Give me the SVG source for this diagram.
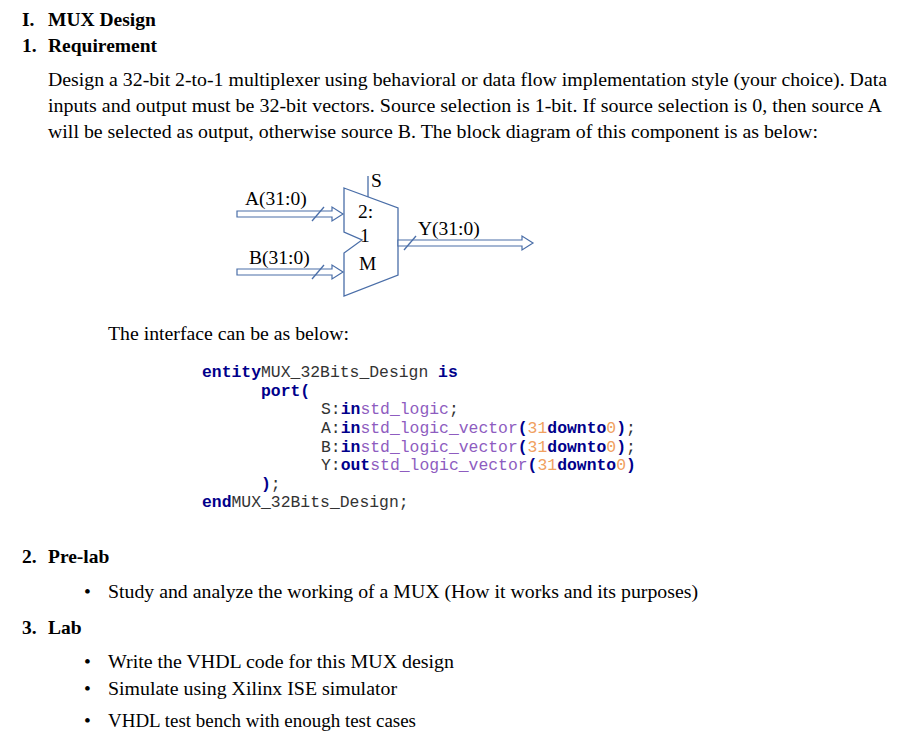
<svg xmlns="http://www.w3.org/2000/svg" width="902" height="746" viewBox="0 0 902 746">
<style>
.t{font-family:"Liberation Serif",serif;font-size:19.5px;fill:#000}
.b{font-weight:bold}
.c{font-family:"Courier New","Liberation Mono","Nimbus Mono PS",monospace;font-size:16.4px;fill:#333}
.k{fill:#00008B;font-weight:bold}
.ty{fill:#8E5CC0}
.n{fill:#F0A060}
.ln{stroke:#4A6EA8;stroke-width:1.3;fill:none}
.ar{stroke:#4A6EA8;stroke-width:1.2;fill:#fff}
</style>
<rect width="902" height="746" fill="#fff"/>
<text class="t b" x="22" y="26">I.</text>
<text class="t b" x="48" y="26">MUX Design</text>
<text class="t b" x="22" y="52">1.</text>
<text class="t b" x="48" y="52">Requirement</text>
<text class="t" x="48" y="86" textLength="839" lengthAdjust="spacingAndGlyphs">Design a 32-bit 2-to-1 multiplexer using behavioral or data flow implementation style (your choice). Data</text>
<text class="t" x="48" y="112" textLength="834" lengthAdjust="spacingAndGlyphs">inputs and output must be 32-bit vectors. Source selection is 1-bit.  If source selection is 0, then source A</text>
<text class="t" x="48" y="138" textLength="770" lengthAdjust="spacingAndGlyphs">will be selected as output, otherwise source B. The block diagram of this component is as below:</text>
<g id="mux">
<path class="ln" d="M344,188 L398,208 L398,275 L344,296 L344,253 L362,240 L344,232 Z"/>
<text class="t" x="358" y="218">2:</text>
<text class="t" x="360" y="242">1</text>
<text class="t" x="359" y="270">M</text>
</g>
<g id="connectors">
<line class="ln" x1="368" y1="176" x2="368" y2="197"/>
<text class="t" x="371" y="187">S</text>
<path class="ar" d="M237,211 L332,211 L332,207 L343,214 L332,221 L332,217 L237,217 Z"/>
<line class="ln" x1="312" y1="221" x2="324" y2="207"/>
<text class="t" x="245" y="205">A(31:0)</text>
<path class="ar" d="M237,269 L332,269 L332,265 L343,272 L332,279 L332,275 L237,275 Z"/>
<line class="ln" x1="312" y1="279" x2="324" y2="265"/>
<text class="t" x="249" y="264">B(31:0)</text>
<path class="ar" d="M398,240 L522,240 L522,236 L533,243 L522,250 L522,246 L398,246 Z"/>
<line class="ln" x1="404" y1="250" x2="416" y2="236"/>
<text class="t" x="418" y="235">Y(31:0)</text>
</g>
<text class="t" x="108" y="340" textLength="241" lengthAdjust="spacingAndGlyphs">The interface can be as below:</text>
<g id="code">
<text class="c" x="202" y="377"><tspan class="k">entity</tspan>MUX_32Bits_Design <tspan class="k">is</tspan></text>
<text class="c" x="261" y="396"><tspan class="k">port(</tspan></text>
<text class="c" x="321" y="414">S:<tspan class="k">in</tspan><tspan class="ty">std_logic</tspan>;</text>
<text class="c" x="321" y="433">A:<tspan class="k">in</tspan><tspan class="ty">std_logic_vector</tspan><tspan class="k">(</tspan><tspan class="n">31</tspan><tspan class="k">downto</tspan><tspan class="n">0</tspan><tspan class="k">)</tspan>;</text>
<text class="c" x="321" y="452">B:<tspan class="k">in</tspan><tspan class="ty">std_logic_vector</tspan><tspan class="k">(</tspan><tspan class="n">31</tspan><tspan class="k">downto</tspan><tspan class="n">0</tspan><tspan class="k">)</tspan>;</text>
<text class="c" x="321" y="470">Y:<tspan class="k">out</tspan><tspan class="ty">std_logic_vector</tspan><tspan class="k">(</tspan><tspan class="n">31</tspan><tspan class="k">downto</tspan><tspan class="n">0</tspan><tspan class="k">)</tspan></text>
<text class="c" x="261" y="489"><tspan class="k">)</tspan>;</text>
<text class="c" x="202" y="507"><tspan class="k">end</tspan>MUX_32Bits_Design;</text>
</g>
<text class="t b" x="22" y="563">2.</text>
<text class="t b" x="48" y="563">Pre-lab</text>
<text class="t" x="84" y="598">•</text>
<text class="t" x="108" y="598" textLength="590" lengthAdjust="spacingAndGlyphs">Study and analyze the working of a MUX (How it works and its purposes)</text>
<text class="t b" x="22" y="634">3.</text>
<text class="t b" x="48" y="634">Lab</text>
<text class="t" x="84" y="668">•</text>
<text class="t" x="108" y="668" textLength="346" lengthAdjust="spacingAndGlyphs">Write the VHDL code for this MUX design</text>
<text class="t" x="84" y="695">•</text>
<text class="t" x="108" y="695" textLength="289" lengthAdjust="spacingAndGlyphs">Simulate using Xilinx ISE simulator</text>
<text class="t" x="84" y="727">•</text>
<text class="t" x="108" y="727" textLength="308" lengthAdjust="spacingAndGlyphs">VHDL test bench with enough test cases</text>
</svg>
